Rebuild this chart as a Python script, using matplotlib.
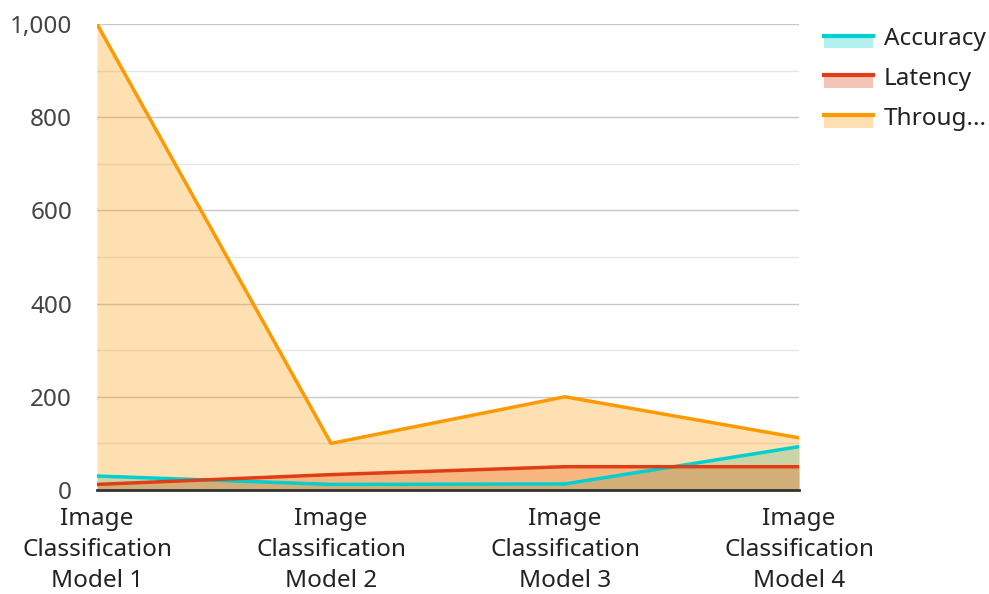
import matplotlib
matplotlib.use('Agg')
import matplotlib.pyplot as plt
from matplotlib.ticker import FuncFormatter, MultipleLocator
from matplotlib.patches import Rectangle
from matplotlib.legend_handler import HandlerBase

plt.rcParams['font.family'] = ['Noto Sans', 'DejaVu Sans']

# Datos
modelos = ["Image\nClassification\nModel 1", "Image\nClassification\nModel 2",
           "Image\nClassification\nModel 3", "Image\nClassification\nModel 4"]
accuracy = [30, 12, 13, 93]
latency = [12, 33, 50, 50]
throughput = [1000, 100, 200, 112]

series = [
    ("Accuracy", accuracy, "#00CFCF"),
    ("Latency", latency, "#E03C16"),
    ("Throug...", throughput, "#FF9900"),
]


class LineaConRelleno(HandlerBase):
    # linea arriba con bloque de relleno debajo, como en la leyenda original
    def __init__(self, color):
        super().__init__()
        self.color = color

    def create_artists(self, legend, orig_handle, xdescent, ydescent,
                       width, height, fontsize, trans):
        top = -ydescent + height * 0.55
        rect = Rectangle((-xdescent, top - height * 0.75), width, height * 0.75,
                         facecolor=self.color, alpha=0.3, edgecolor="none", transform=trans)
        linea = plt.Line2D([-xdescent, -xdescent + width], [top, top],
                           color=self.color, lw=3, transform=trans)
        return [rect, linea]


fig = plt.figure(figsize=(9.89, 5.94), dpi=100)
ax = fig.add_axes([97 / 989, 1 - 490 / 594, (799 - 97) / 989, (490 - 24) / 594])

x = list(range(len(modelos)))
handles = []
handler_map = {}
for nombre, valores, color in series:
    ax.fill_between(x, 0, valores, color=color, alpha=0.3, lw=0)
    linea, = ax.plot(x, valores, color=color, lw=2.5, label=nombre)
    handles.append(linea)
    handler_map[linea] = LineaConRelleno(color)

ax.set_xlim(0, 3)
ax.set_ylim(0, 1000)
ax.yaxis.set_major_locator(MultipleLocator(200))
ax.yaxis.set_minor_locator(MultipleLocator(100))
ax.yaxis.set_major_formatter(FuncFormatter(lambda v, p: f"{int(v):,}"))
ax.grid(axis="y", which="major", color="#c8c8c8", lw=1)
ax.grid(axis="y", which="minor", color="#e6e6e6", lw=1)
ax.set_axisbelow(True)

for lado in ["left", "right", "top"]:
    ax.spines[lado].set_visible(False)
ax.spines["bottom"].set_color("#333333")
ax.spines["bottom"].set_linewidth(2)

ax.set_xticks(x)
ax.set_xticklabels(modelos, fontsize=17.5, color="#222222", linespacing=1.4)
ax.tick_params(axis="y", which="both", length=0, labelsize=17.5, labelcolor="#444444", pad=18)
ax.tick_params(axis="x", length=0, pad=12)

fig.legend(handles=handles, handler_map=handler_map, loc="upper left",
           bbox_to_anchor=(824 / 989, 1 - 27 / 594), frameon=False, fontsize=17.5,
           borderpad=0, borderaxespad=0,
           handlelength=2.0, handletextpad=0.45, labelspacing=0.65, labelcolor="#222222")

plt.savefig("out.png", dpi=100)
